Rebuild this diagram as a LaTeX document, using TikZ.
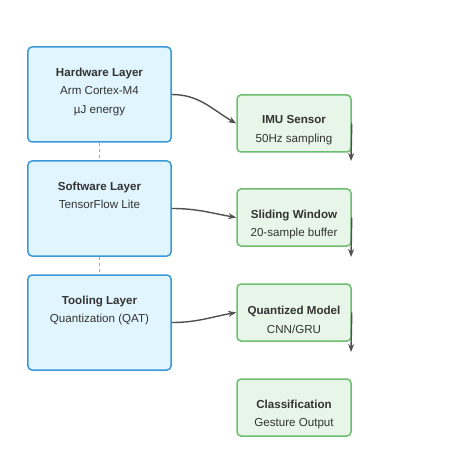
\documentclass[tikz,border=0pt]{standalone}
\usepackage{fontspec}
\setmainfont{Liberation Sans}
\usetikzlibrary{arrows.meta}
\definecolor{bluefill}{HTML}{E1F5FE}
\definecolor{blueline}{HTML}{3A98D8}
\definecolor{greenfill}{HTML}{E8F5E9}
\definecolor{greenline}{HTML}{6DBE6F}
\definecolor{txt}{HTML}{333333}
\definecolor{arr}{HTML}{505050}
\begin{document}
\begin{tikzpicture}[x=1bp,y=-1bp,
  layerbox/.style={draw=blueline,fill=bluefill,line width=1.5bp,rounded corners=4bp,minimum width=143bp,minimum height=95bp,inner sep=0pt},
  stagebox/.style={draw=greenline,fill=greenfill,line width=1.5bp,rounded corners=4bp,minimum width=114bp,minimum height=57bp,inner sep=0pt},
  lbl/.style={text=txt,align=center,font=\fontsize{11.6bp}{18.8bp}\selectfont,inner sep=0pt},
  flow/.style={draw=arr,line width=1.4bp,-{Stealth[length=8bp,width=6bp]}},
  link/.style={draw=black!35,line width=1bp,dashed}]
\useasboundingbox (0,0) rectangle (474,474);
% layer boxes
\node[layerbox] (hw) at (99.5,94.5) {};
\node[layerbox] (sw) at (99.5,208.5) {};
\node[layerbox] (tl) at (99.5,322.5) {};
\node[lbl,anchor=north] (hwt) at (99.5,67.5) {\textbf{Hardware Layer}\\Arm Cortex-M4\\µJ energy};
\node[lbl,anchor=north] (swt) at (99.5,181.5) {\textbf{Software Layer}\\TensorFlow Lite};
\node[lbl,anchor=north] (tlt) at (99.5,295.5) {\textbf{Tooling Layer}\\Quantization (QAT)};
% stage boxes
\node[stagebox] (imu) at (294,123.5) {};
\node[stagebox] (win) at (294,217.5) {};
\node[stagebox] (qm) at (294,312.5) {};
\node[stagebox] (cls) at (294,407.5) {};
\node[lbl] (imut) at (294,130.5) {\textbf{IMU Sensor}\\50Hz sampling};
\node[lbl] (wint) at (294,224.5) {\textbf{Sliding Window}\\20-sample buffer};
\node[lbl] (qmt) at (294,319.5) {\textbf{Quantized Model}\\CNN/GRU};
\node[lbl] (clst) at (294,414.5) {\textbf{Classification}\\Gesture Output};
% dashed links
\draw[link] (hw.south) -- (sw.north);
\draw[link] (sw.south) -- (tl.north);
% curved arrows
\draw[flow] (hw.east) to[out=0,in=150] (imu.west);
\draw[flow] (sw.east) to[out=0,in=170] (win.west);
\draw[flow] (tl.east) to[out=0,in=190] (qm.west);
% short down arrows
\coordinate (d1) at (351,161);
\coordinate (d2) at (351,257);
\coordinate (d3) at (351,352);
\draw[flow] (imu.east) -- (d1);
\draw[flow] (win.east) -- (d2);
\draw[flow] (qm.east) -- (d3);
\end{tikzpicture}
\end{document}
